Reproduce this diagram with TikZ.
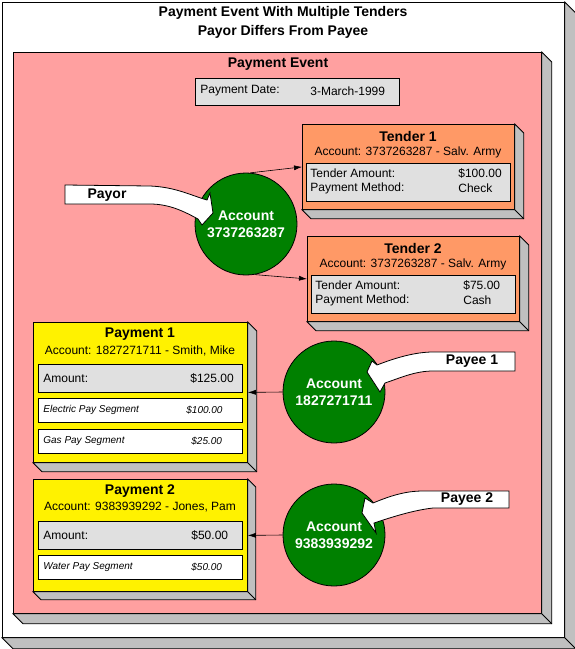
\documentclass[tikz,border=0pt]{standalone}
\usepackage{fontspec}
\setmainfont{Liberation Sans}
\usetikzlibrary{arrows.meta}

\definecolor{eventpink}{RGB}{255,160,160}
\definecolor{tenderorange}{RGB}{255,153,102}
\definecolor{fieldgray}{RGB}{224,224,224}
\definecolor{shadegray}{RGB}{192,192,192}
\definecolor{acctgreen}{RGB}{0,128,0}

\newcommand{\bodyfont}{\fontsize{12}{15}\selectfont}
\newcommand{\headfont}{\fontsize{14}{17}\selectfont\bfseries}
\newcommand{\segfont}{\fontsize{10}{12}\selectfont\itshape}

% side and bottom faces of a raised box
\newcommand{\extrude}[2]{%
  \draw[fill=shadegray] (#1.north east) -- ++(#2,#2) -- ([shift={(#2,#2)}]#1.south east)
    -- ([shift={(#2,#2)}]#1.south west) -- (#1.south west) -- (#1.south east) -- cycle;
  \draw (#1.south east) -- ++(#2,#2);}

\begin{document}
\begin{tikzpicture}[x=1pt, y=-1pt, line width=0.8pt,
  panel/.style={draw, rectangle, anchor=north west, inner sep=0pt},
  head/.style={font=\headfont},
  txt/.style={font=\bodyfont, anchor=west, inner sep=0pt},
  seg/.style={font=\segfont, anchor=west, inner sep=0pt},
  acct/.style={draw, circle, fill=acctgreen, minimum size=102pt, inner sep=0pt,
    text=white, font=\headfont, align=center},
  callout/.style={draw, fill=white, line width=0.8pt, line join=miter},
  link/.style={-{Latex[length=8pt,width=5pt]}, line width=0.6pt}]

\useasboundingbox (0,0) rectangle (575,649);

\node[panel, fill=white, minimum width=562pt, minimum height=635pt] (frame) at (2,2) {};
\extrude{frame}{11}
\node[head, align=center, font=\fontsize{14}{19}\selectfont\bfseries] (title) at (283,22)
  {Payment Event With Multiple Tenders\\Payor Differs From Payee};

\node[panel, fill=eventpink, minimum width=528pt, minimum height=561pt] (event) at (13,52) {};
\extrude{event}{10}
\node[head] (eventname) at (278,64) {Payment Event};
\node[panel, fill=fieldgray, minimum width=204pt, minimum height=27pt] (date) at (195,78) {};
\node[txt] at (200,91) {Payment Date:};
\node[txt] at (310,91) {3-March-1999};

% tenders
\node[panel, fill=tenderorange, minimum width=212pt, minimum height=85pt] (t1) at (302,124) {};
\extrude{t1}{9}
\node[panel, fill=tenderorange, minimum width=212pt, minimum height=85pt] (t2) at (307,236) {};
\extrude{t2}{9}
\foreach \t/\x/\y/\amt/\meth in {1/302/124/\$100.00/Check, 2/307/236/\$75.00/Cash} {
  \node[head] at (\x+106,\y+12) {Tender \t};
  \node[font=\bodyfont] at (\x+106,\y+28) {Account: 3737263287 - Salv. Army};
  \node[panel, fill=fieldgray, minimum width=204pt, minimum height=38pt] (t\t f) at (\x+4,\y+39) {};
  \node[txt] at (\x+8,\y+49) {Tender Amount:};
  \node[txt] at (\x+8,\y+64) {Payment Method:};
  \node[txt] at (\x+156,\y+49) {\amt};
  \node[txt] at (\x+156,\y+64) {\meth};
}

% payments
\node[panel, fill=yellow, minimum width=214pt, minimum height=140pt] (p1) at (33,322) {};
\extrude{p1}{9}
\node[head] at (140,334) {Payment 1};
\node[font=\bodyfont] at (140,351) {Account: 1827271711 - Smith, Mike};
\node[panel, fill=fieldgray, minimum width=204pt, minimum height=28pt] (p1amt) at (38,364) {};
\node[txt] at (43,378) {Amount:};
\node[txt] at (190,378) {\$125.00};
\node[panel, fill=white, minimum width=204pt, minimum height=24pt] (p1seg1) at (38,398) {};
\node[seg] at (43,410) {Electric Pay Segment};
\node[seg] at (186,410) {\$100.00};
\node[panel, fill=white, minimum width=204pt, minimum height=24pt] (p1seg2) at (38,429) {};
\node[seg] at (43,441) {Gas Pay Segment};
\node[seg] at (191,441) {\$25.00};

\node[panel, fill=yellow, minimum width=214pt, minimum height=112pt] (p2) at (33,479) {};
\extrude{p2}{8}
\node[head] at (140,491) {Payment 2};
\node[font=\bodyfont] at (140,507) {Account: 9383939292 - Jones, Pam};
\node[panel, fill=fieldgray, minimum width=204pt, minimum height=28pt] (p2amt) at (38,521) {};
\node[txt] at (43,535) {Amount:};
\node[txt] at (191,535) {\$50.00};
\node[panel, fill=white, minimum width=204pt, minimum height=24pt] (p2seg1) at (38,555) {};
\node[seg] at (43,567) {Water Pay Segment};
\node[seg] at (191,567) {\$50.00};

% accounts
\node[acct] (c0) at (246,224) {Account\\3737263287};
\node[acct] (c1) at (334,392) {Account\\1827271711};
\node[acct] (c2) at (334,535) {Account\\9383939292};

\draw[link] (c0.85) -- (t1.west);
\draw[link] (c0.-80) -- (t2.west);
\draw[link] (c1.west) -- (p1.east);
\draw[link] (c2.west) -- (p2.east);

% payor and payee pointers
\draw[callout] (65,185) -- (150,186) .. controls (175,187) and (190,195) .. (207,200)
  -- (210,193) -- (213,213) -- (202,225) -- (198,219)
  .. controls (185,212) and (170,204) .. (150,204) -- (65,204) -- cycle;
\node[head] (payor) at (107,195) {Payor};

\draw[callout] (515,352) -- (515,371) -- (433,371) .. controls (415,371) and (400,378) .. (385,383)
  -- (380,392) -- (367,372) -- (372,361) -- (377,365)
  .. controls (395,358) and (415,352) .. (433,352) -- cycle;
\node[head] (payee1) at (472,361) {Payee 1};

\draw[callout] (509,491) -- (509,508) -- (433,508) .. controls (415,510) and (395,516) .. (374,523)
  -- (376,533) -- (362,513) -- (365,498) -- (373,503)
  .. controls (390,496) and (405,491) .. (423,491) -- cycle;
\node[head] (payee2) at (467,499) {Payee 2};
\end{tikzpicture}
\end{document}
